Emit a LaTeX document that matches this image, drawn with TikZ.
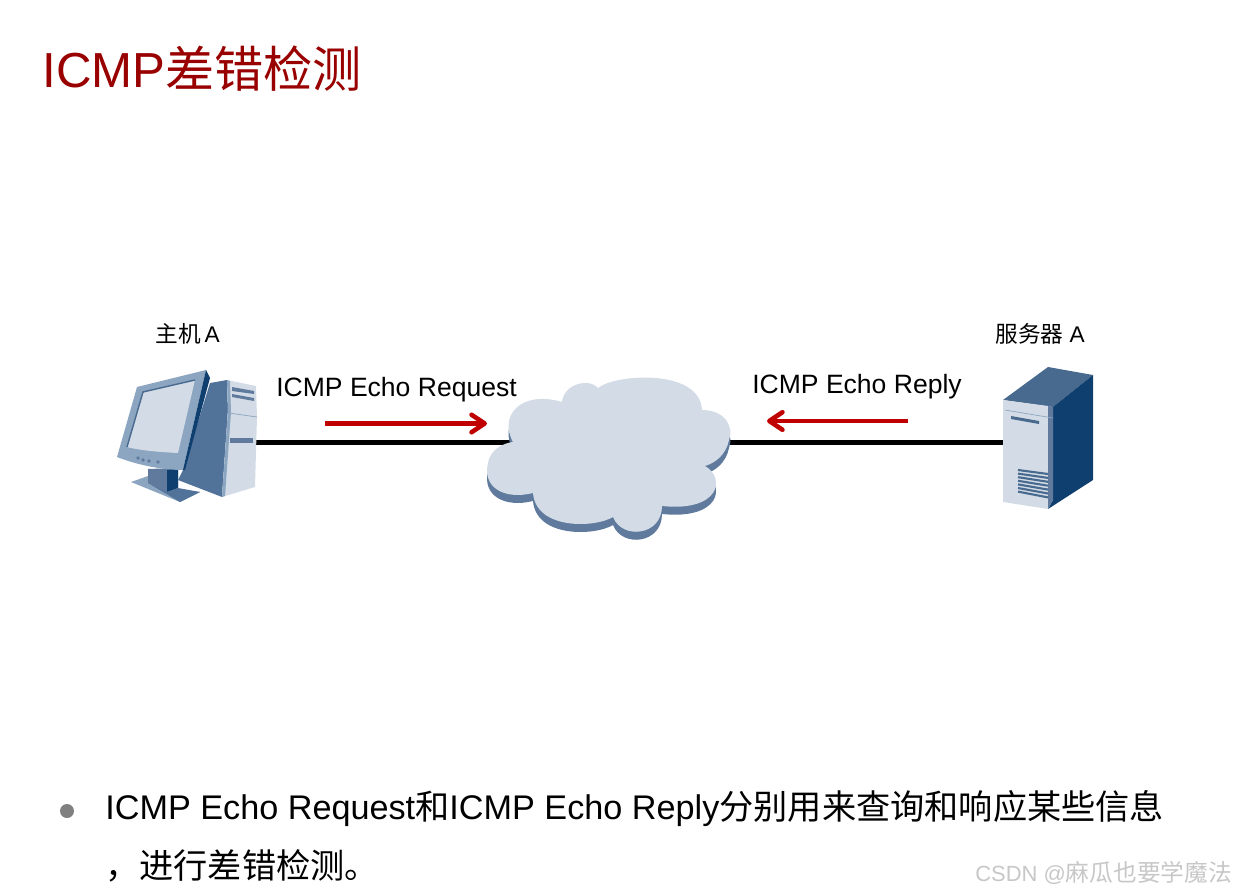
\documentclass[tikz,border=0pt]{standalone}
\usepackage{fontspec}
\setmainfont{Liberation Sans}
\newfontfamily\cjk{Noto Sans CJK SC}
\usetikzlibrary{arrows.meta}
\definecolor{titlered}{HTML}{990000}
\definecolor{arrowred}{HTML}{C00000}
\definecolor{paleblue}{HTML}{D3DCE6}
\definecolor{midblue}{HTML}{5F7A9C}
\definecolor{sideblue}{HTML}{527399}
\definecolor{topblue}{HTML}{496A8F}
\definecolor{frameblue}{HTML}{8CA5C0}
\definecolor{darkblue}{HTML}{0F3F6E}
\newcommand{\cloudpath}{(598,388) .. controls (615,374) and (700,368) .. (702,410)
  .. controls (726,410) and (734,428) .. (729,440)
  .. controls (726,455) and (715,463) .. (705,466)
  .. controls (726,478) and (720,512) .. (662,506)
  .. controls (662,536) and (622,540) .. (613,517)
  .. controls (595,528) and (536,530) .. (533,493)
  .. controls (505,500) and (482,488) .. (488,463)
  .. controls (490,450) and (503,443) .. (513,442)
  .. controls (498,415) and (522,390) .. (562,402)
  .. controls (564,383) and (590,378) .. (598,388) -- cycle}
\tikzset{
  txt/.style={anchor=base west,inner sep=0pt},
  link/.style={black,line width=2.3pt},
  flow/.style={arrowred,line width=2.3pt,-{Straight Barb[length=7.5pt,width=10pt,line width=2.6pt,round]}},
}
\begin{document}
\begin{tikzpicture}[x=0.02cm,y=-0.02cm]
  \useasboundingbox (0,0) rectangle (1234,892);
  \node[txt,font=\fontsize{28}{30}\selectfont,text=titlered] (title) at (42,88) {ICMP{\cjk 差错检测}};
  % attachment points of the two links
  \coordinate (hostport) at (255,442.5);
  \coordinate (cloudleft) at (520,442.5);
  \coordinate (cloudright) at (725,442.5);
  \coordinate (serverport) at (1003,442.5);
  \draw[link] (hostport) -- (cloudleft);
  \draw[link] (cloudright) -- (serverport);
  % cloud
  \fill[midblue,yshift=-0.16cm] \cloudpath;
  \fill[paleblue] \cloudpath;
  % host
  \fill[sideblue] (210,383)--(227,380)--(228,410)--(222,497)--(178,480)--(183,470)--cycle;
  \fill[paleblue] (227,380)--(256,386)--(257,417)--(255,487)--(222,497)--(228,410)--cycle;
  \fill[frameblue] (227,380)--(230,381)--(231,412)--(225,496)--(222,497)--(228,410)--cycle;
  \draw[frameblue,thin] (229,413)--(257,417);
  \fill[midblue] (232,387)--(254,391)--(254,394)--(232,391)--cycle;
  \fill[midblue] (232,394)--(254,398)--(254,401)--(232,397)--cycle;
  \fill[midblue] (230,438)--(253,438)--(253,443)--(230,443)--cycle;
  \fill[frameblue] (131,482)--(148,476)--(180,490)--(200,492)--(180,502)--cycle;
  \fill[midblue] (148,469)--(178,468)--(178,488)--(167,492)--(148,483)--cycle;
  \fill[darkblue] (167,470)--(178,468)--(178,488)--(167,492)--cycle;
  \fill[sideblue] (148,483)--(167,492)--(178,488)--(200,492)--(180,502)--cycle;
  \fill[frameblue] (117,457)--(137,387)--(206,370)--(183,470) .. controls (165,470) and (140,466) .. (117,457)--cycle;
  \fill[darkblue] (206,370)--(210,378)--(185,470)--(183,470)--cycle;
  \fill[paleblue] (127,447)--(143,392)--(195,380)--(178,453) .. controls (160,452) and (143,451) .. (127,447)--cycle;
  \draw[topblue,line width=0.8pt] (127,447)--(143,392)--(195,380);
  \foreach \dotx/\doty in {138/458,143/460,149/461,158/462}
    \fill[midblue] (\dotx,\doty) circle (1.8);
  % server
  \fill[topblue] (1003,400)--(1048,367)--(1093,375)--(1053,407)--cycle;
  \fill[darkblue] (1053,407)--(1093,375)--(1093,480)--(1048,509)--(1053,500)--cycle;
  \fill[paleblue] (1003,400)--(1048,406)--(1048,509)--(1003,502)--cycle;
  \fill[midblue] (1048,406)--(1053,407)--(1053,500)--(1048,509)--cycle;
  \draw[frameblue,thin] (1005,410)--(1053,418);
  \fill[topblue] (1011,416)--(1039,421)--(1039,424)--(1011,419)--cycle;
  \foreach \ventrow in {0,...,6}
    \draw[topblue,line width=1.2pt] (1018,470+3.6*\ventrow)--(1048,474+3.9*\ventrow);
  % labels
  \node[txt,font=\fontsize{12.9}{14}\selectfont] (hostlabel) at (155,342) {{\cjk 主机}\hspace{2.3pt}A};
  \node[txt,font=\fontsize{12.9}{14}\selectfont] (serverlabel) at (995,342) {{\cjk 服务器} A};
  \node[txt,font=\fontsize{15.1}{18}\selectfont] (reqlabel) at (276,396) {ICMP Echo Request};
  \node[txt,font=\fontsize{15.1}{18}\selectfont] (replabel) at (752,393) {ICMP Echo Reply};
  % flows
  \coordinate (reqstart) at (325,423.5);
  \coordinate (reqend) at (487,423.5);
  \coordinate (repstart) at (908,421);
  \coordinate (repend) at (767,421);
  \draw[flow] (reqstart) -- (reqend);
  \draw[flow] (repstart) -- (repend);
  % text below
  \fill[gray] (67,811) circle (7);
  \node[txt,font=\fontsize{19.47}{24}\selectfont] (lineone) at (105,819) {ICMP Echo Request{\cjk 和}ICMP Echo Reply{\cjk 分别用来查询和响应某些信息}};
  \node[txt,font=\fontsize{19.47}{24}\selectfont] (linetwo) at (105,878) {{\cjk ，进行差错检测。}};
  \node[txt,font=\fontsize{12.5}{14}\selectfont,text=black!22] (mark) at (975,881) {CSDN @{\fontsize{13.5}{14}\selectfont\cjk 麻瓜也要学魔法}};
\end{tikzpicture}
\end{document}
